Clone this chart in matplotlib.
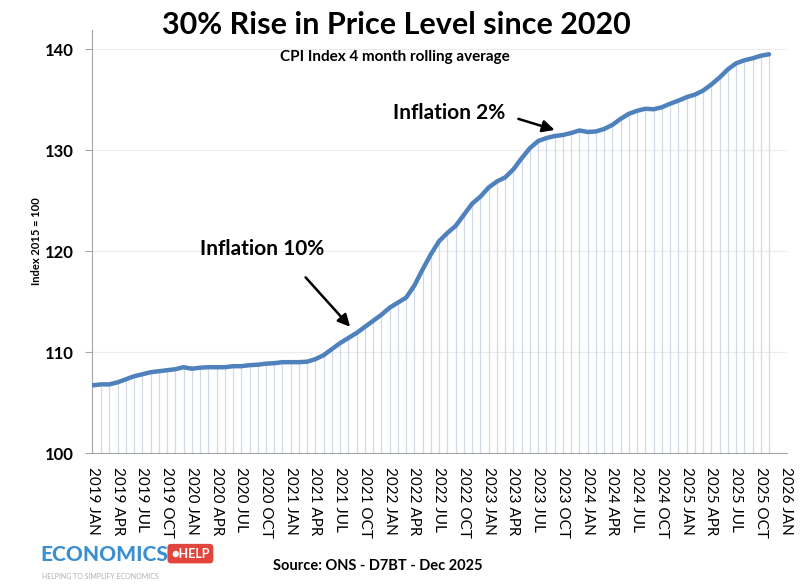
import numpy as np
import matplotlib.pyplot as plt

plt.rcParams["font.family"] = ["Lato", "DejaVu Sans"]

# CPI index, 4 month rolling average, monthly from 2019 JAN to 2025 NOV
cpi = [
    106.7, 106.8, 106.8, 107.0, 107.3, 107.6, 107.8, 108.0, 108.1, 108.2, 108.3, 108.5,
    108.35, 108.45, 108.5, 108.5, 108.5, 108.6, 108.6, 108.7, 108.75, 108.85, 108.9, 109.0,
    109.0, 109.0, 109.05, 109.3, 109.7, 110.3, 110.9, 111.4, 111.9, 112.5, 113.1, 113.7,
    114.4, 114.9, 115.4, 116.6, 118.2, 119.7, 121.0, 121.8, 122.5, 123.6, 124.7, 125.4,
    126.3, 126.9, 127.3, 128.1, 129.2, 130.2, 130.9, 131.2, 131.4, 131.5, 131.7, 131.95,
    131.8, 131.85, 132.1, 132.5, 133.1, 133.6, 133.9, 134.1, 134.05, 134.25, 134.6, 134.9,
    135.25, 135.5, 135.9, 136.5, 137.2, 138.0, 138.6, 138.9, 139.1, 139.35, 139.5,
]
months = ["JAN", "APR", "JUL", "OCT"]
years = list(range(2019, 2027))
tick_labels = [f"{y} {m}" for y in years for m in months][:29]
y_ticks = [100, 110, 120, 130, 140]

x = np.arange(len(cpi))

fig = plt.figure(figsize=(8, 5.84), dpi=100)
ax = fig.add_axes([0.115, 0.2243, 0.869, 0.7243])

ax.vlines(x[1:], 100, cpi[1:], color="#cfd9e8", linewidth=0.9, zorder=1)
ax.plot(x, cpi, color="#4f81bd", linewidth=3.2, solid_capstyle="round", zorder=3)

ax.set_xlim(-0.1, 84.2)
ax.set_ylim(100, 141.9)
ax.set_yticks(y_ticks)
ax.set_yticklabels([str(v) for v in y_ticks], fontsize=12, fontweight="bold")
ax.set_xticks(np.arange(0, 85, 3))
ax.set_xticklabels(tick_labels, rotation=270, fontsize=11)
ax.tick_params(axis="x", length=0, pad=10)
ax.tick_params(axis="y", length=5, color="#a6a6a6", pad=8)
ax.grid(axis="y", color="#ececec", linewidth=0.8)
ax.set_axisbelow(True)
for s in ["top", "right"]:
    ax.spines[s].set_visible(False)
for s in ["left", "bottom"]:
    ax.spines[s].set_color("#a6a6a6")
ax.set_ylabel("Index 2015 = 100", fontsize=8, fontweight="bold", labelpad=2)

fig.text(0.495, 0.958, "30% Rise in Price Level since 2020", ha="center", va="center",
         fontsize=22, fontweight="bold")
fig.text(0.494, 0.903, "CPI Index 4 month rolling average", ha="center", va="center",
         fontsize=11, fontweight="bold")

arrow = dict(arrowstyle="-|>", color="black", lw=1.8, mutation_scale=18, shrinkA=0, shrinkB=0)
ax.text(43.2, 133.7, "Inflation 2%", fontsize=15, fontweight="bold", ha="center", va="center")
ax.annotate("", xy=(56.0, 132.0), xytext=(51.6, 133.1), arrowprops=arrow)
ax.text(20.5, 120.2, "Inflation 10%", fontsize=15, fontweight="bold", ha="center", va="center")
ax.annotate("", xy=(31.2, 112.5), xytext=(25.8, 117.4), arrowprops=arrow)

fig.text(0.472, 0.030, "Source: ONS - D7BT - Dec 2025", ha="center", va="center",
         fontsize=10.5, fontweight="bold")

# logo
fig.text(0.05, 0.050, "ECONOMICS", ha="left", va="center", fontsize=15,
         fontweight="black", color="#3b8fd1")
fig.text(0.214, 0.052, "\u25cfHELP", ha="left", va="center", fontsize=9,
         fontweight="bold", color="white",
         bbox=dict(boxstyle="round,pad=0.3", fc="#e2453c", ec="none"))
fig.text(0.052, 0.012, "HELPING TO SIMPLIFY ECONOMICS", ha="left", va="center",
         fontsize=5, color="#b0b0b0")

fig.savefig("out.png", dpi=100)
